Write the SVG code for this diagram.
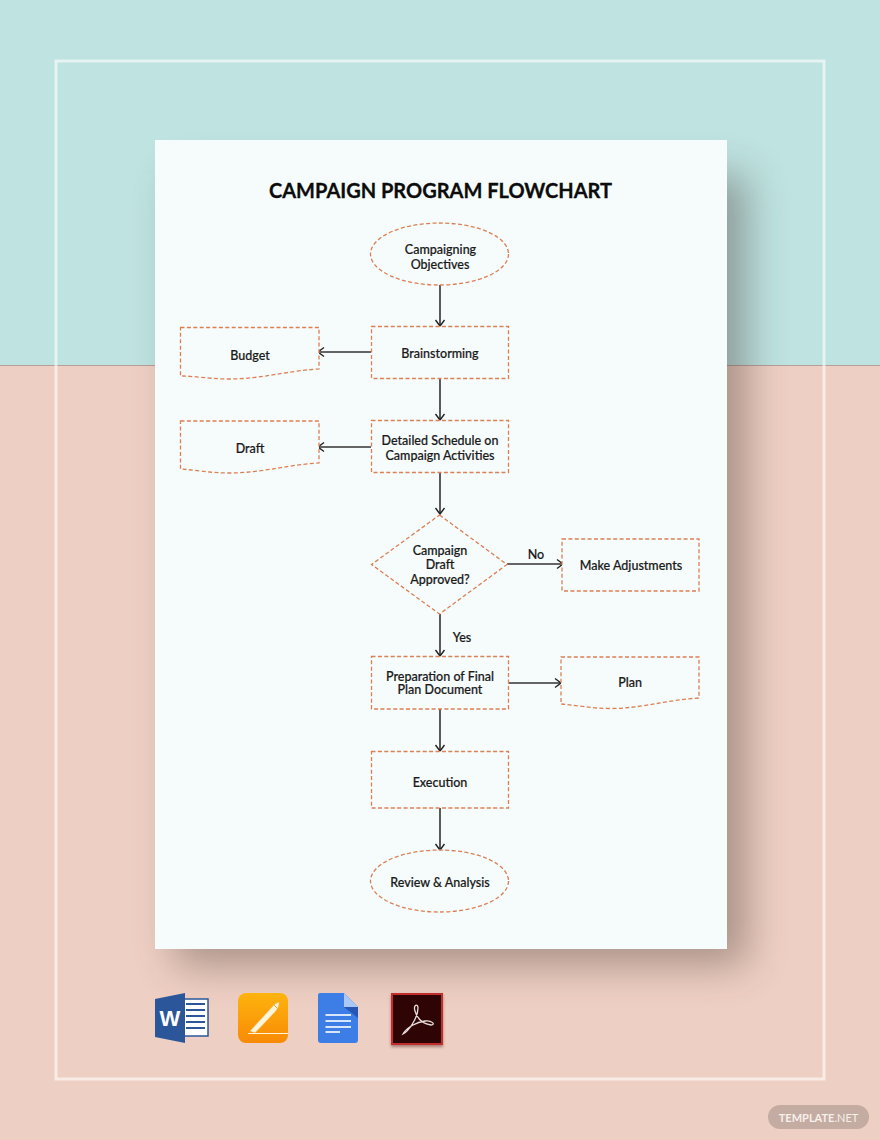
<svg xmlns="http://www.w3.org/2000/svg" width="880" height="1140" viewBox="0 0 880 1140">
<style>
text{font-family:Lato,"Open Sans","Liberation Sans",sans-serif;fill:#1a1a1a}
.l{font-size:12.500px;font-weight:500;text-anchor:middle;stroke:#1a1a1a;stroke-width:.2}
.s{fill:#f6fcfc;stroke:#dc7f55;stroke-width:1.300;stroke-dasharray:4 2.400}
.c{fill:none;stroke:#333;stroke-width:1.600;marker-end:url(#a)}
</style>
<defs>
<marker id="a" markerUnits="userSpaceOnUse" markerWidth="10" markerHeight="12" refX="8" refY="6" orient="auto"><path d="M2 1.500L8 6L2 10.500" fill="none" stroke="#222" stroke-width="1.400"/></marker>
<filter id="b" x="-30%" y="-30%" width="160%" height="160%"><feGaussianBlur stdDeviation="20"/></filter>
<filter id="d" x="-20%" y="-20%" width="140%" height="140%"><feGaussianBlur stdDeviation="1.500"/></filter>
<linearGradient id="o" x1="0" y1="0" x2="0" y2="1"><stop offset="0" stop-color="#fdb40e"/><stop offset="1" stop-color="#f98a05"/></linearGradient>
</defs>
<g id="background">
<rect width="880" height="365" fill="#bee3e1"/>
<rect y="365" width="880" height="775" fill="#eecfc3"/>
<rect y="365" width="880" height="1" fill="#b89f96"/>
<rect x="175" y="175" width="572" height="790" fill="#4a3a36" opacity=".42" filter="url(#b)"/>
<rect x="56" y="61" width="768" height="1018" fill="none" stroke="#fff" stroke-opacity=".6" stroke-width="3"/>
<rect x="155" y="140" width="572" height="809" fill="#f6fcfc"/>
</g>
<text id="title" x="440.500" y="198" text-anchor="middle" textLength="343" lengthAdjust="spacingAndGlyphs" style="font-size:20.500px;font-weight:700;fill:#0c0c0c;stroke:#0c0c0c;stroke-width:.3">CAMPAIGN PROGRAM FLOWCHART</text>
<g id="connectors">
<path class="c" d="M440 285V326"/>
<path class="c" d="M371 352H318"/>
<path class="c" d="M440 379V420"/>
<path class="c" d="M371 447H318"/>
<path class="c" d="M440 473V514"/>
<path class="c" d="M507 564H563"/>
<path class="c" d="M440 614V656"/>
<path class="c" d="M508 683H561"/>
<path class="c" d="M440 709V751"/>
<path class="c" d="M440 808V850"/>
</g>
<g id="n1"><ellipse class="s" cx="439.500" cy="254" rx="69" ry="31"/><text class="l" x="440.500" y="253.500">Campaigning</text><text class="l" x="440" y="268.500">Objectives</text></g>
<g id="n2"><rect class="s" x="371.500" y="326.500" width="137" height="52"/><text class="l" x="440" y="357.500">Brainstorming</text></g>
<g id="n3"><path class="s" d="M180.500 327.500H319V369C285 371 262 379 229 379C210 379 195 376 180.500 376Z"/><text class="l" x="250" y="359.500">Budget</text></g>
<g id="n4"><rect class="s" x="371.500" y="420.500" width="137" height="52"/><text class="l" x="440" y="445">Detailed Schedule on</text><text class="l" x="440" y="459.500">Campaign Activities</text></g>
<g id="n5"><path class="s" d="M180.500 421H319V463C285 465 262 473 229 473C210 473 195 470 180.500 469Z"/><text class="l" x="250" y="452.500">Draft</text></g>
<g id="n6"><path class="s" d="M439.500 515L507 564.500L439.500 614L371.500 564.500Z"/><text class="l" x="440" y="554.500">Campaign</text><text class="l" x="440" y="569">Draft</text><text class="l" x="440" y="583.500">Approved?</text></g>
<g id="n7"><rect class="s" x="562" y="539" width="137" height="52"/><text class="l" x="631" y="569.500">Make Adjustments</text></g>
<g id="n8"><rect class="s" x="371.500" y="656.500" width="137" height="52.500"/><text class="l" x="440" y="680.500">Preparation of Final</text><text class="l" x="440" y="694">Plan Document</text></g>
<g id="n9"><path class="s" d="M561 657H699V698C665 700 642 708.500 610 708.500C591 708.500 576 705 561 704Z"/><text class="l" x="630" y="686.500">Plan</text></g>
<g id="n10"><rect class="s" x="371.500" y="751.500" width="137" height="56.500"/><text class="l" x="440" y="786.500">Execution</text></g>
<g id="n11"><ellipse class="s" cx="439.500" cy="881" rx="69" ry="31"/><text class="l" x="440" y="886.500">Review &amp; Analysis</text></g>
<text class="l" x="536" y="558.500">No</text>
<text class="l" x="462" y="641.500">Yes</text>
<g id="icon-word">
<rect x="184" y="999" width="24" height="37" fill="#fff" stroke="#2b579a" stroke-width="1.500"/>
<path d="M186 1004H205M186 1010H205M186 1016H205M186 1022H205M186 1028H205" stroke="#2b579a" stroke-width="2"/>
<path d="M155 999L185 993V1043L155 1037Z" fill="#2b579a"/>
<text x="170" y="1026" text-anchor="middle" style="font-size:22px;font-weight:700;fill:#fff;font-family:'Liberation Sans',sans-serif">W</text>
</g>
<g id="icon-pages">
<rect x="238" y="993" width="50" height="50" rx="8" fill="url(#o)"/>
<path d="M250 1031L271 1008Q275 1003 279 1002Q280 1006 276 1011L255 1033Z" fill="#fff4dc" stroke="#f9a825" stroke-width=".5"/>
<path d="M274 1005L279 1010" stroke="#f9a825" stroke-width="1"/>
<path d="M248 1033.500H288" stroke="#fff4dc" stroke-width="1.200"/>
</g>
<g id="icon-docs">
<path d="M320 993H344L358 1007V1040Q358 1043 355 1043H321Q318 1043 318 1040V995Q318 993 320 993Z" fill="#3d7ee6"/>
<path d="M344 993L358 1007H344Z" fill="#a9c8f5"/>
<path d="M344 1007L358 1007V1018Z" fill="#2757b5"/>
<path d="M325.500 1015H351M325.500 1021H351M325.500 1027H351M325.500 1032H340" stroke="#d8e6fb" stroke-width="1.800"/>
</g>
<g id="icon-pdf">
<rect x="391" y="995" width="52" height="52" fill="#6b3a34" opacity=".55" filter="url(#d)"/>
<rect x="392" y="994" width="50" height="50" fill="#2e0404" stroke="#c02f2c" stroke-width="2"/>
<path d="M403 1034C408 1032 418 1018 418 1008C418 1003 413 1005 415 1011C418 1021 424 1024 431 1025C436 1025 432 1020 425 1021C417 1022 407 1027 403 1034Z" fill="none" stroke="#e8dede" stroke-width="1.300"/>
</g>
<g id="badge">
<rect x="768" y="1105" width="101" height="24" rx="12" fill="#c4aca3"/>
<text x="818.500" y="1122" text-anchor="middle" style="font-size:11px;font-weight:700;fill:#f7efea">TEMPLATE<tspan font-weight="400">.NET</tspan></text>
</g>
</svg>
